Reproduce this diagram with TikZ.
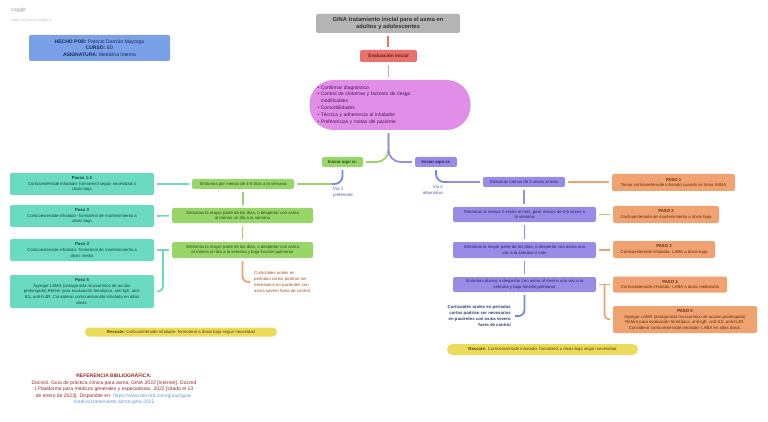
\documentclass[tikz,border=0pt]{standalone}
\usepackage{fontspec}
\setmainfont{Liberation Sans}
\usepackage{tikz}
\usetikzlibrary{calc}
\usetikzlibrary{positioning}

\definecolor{cgreen}{RGB}{152,214,106}
\definecolor{cgreentxt}{RGB}{40,72,20}
\definecolor{cpurple}{RGB}{152,140,230}
\definecolor{cpurpletxt}{RGB}{40,30,100}
\definecolor{cteal}{RGB}{106,218,192}
\definecolor{ctealtxt}{RGB}{20,72,60}
\definecolor{corange}{RGB}{240,162,112}
\definecolor{corangetxt}{RGB}{100,45,10}
\definecolor{cyellow}{RGB}{236,218,90}
\definecolor{cyellowtxt}{RGB}{80,70,10}
\definecolor{cblue}{RGB}{122,160,232}
\definecolor{cbluetxt}{RGB}{25,40,90}
\definecolor{cgraybox}{RGB}{180,180,180}
\definecolor{ctitletxt}{RGB}{50,50,50}
\definecolor{cred}{RGB}{230,115,108}
\definecolor{credtxt}{RGB}{110,25,20}
\definecolor{cpink}{RGB}{224,142,232}
\definecolor{cpinktxt}{RGB}{70,25,80}
\definecolor{cbluelink}{RGB}{110,140,225}
\definecolor{cvia}{RGB}{70,90,160}
\definecolor{cortltxt}{RGB}{160,80,30}
\definecolor{cortptxt}{RGB}{50,60,110}
\definecolor{cbib}{RGB}{150,40,40}
\definecolor{clink}{RGB}{110,150,220}
\definecolor{cgraylogo}{RGB}{150,150,150}
\definecolor{cgraylight}{RGB}{185,185,185}

\begin{document}
\begin{tikzpicture}[x=1pt,y=-1pt,
        box/.style={rectangle,rounded corners=2pt,align=center,inner sep=1pt,font=\fontsize{4.3}{5.7}\selectfont},
        greenbox/.style={box,fill=cgreen,text=cgreentxt},
        purplebox/.style={box,fill=cpurple,text=cpurpletxt},
        tealbox/.style={box,fill=cteal,text=ctealtxt,minimum width=144pt},
        orangebox/.style={box,fill=corange,text=corangetxt},
        rescue/.style={box,fill=cyellow,text=cyellowtxt,rounded corners=4.5pt},
        link/.style={line width=1.8pt,shorten <=3pt,shorten >=3pt},
        ]
        \useasboundingbox (0,0) rectangle (768,422);

        \node[anchor=west,inner sep=0,text=cgraylogo,font=\fontsize{5}{6}\selectfont](logo) at (11,10){coggle};
        \node[anchor=west,inner sep=0,text=cgraylight,font=\fontsize{3.6}{4}\selectfont](madefor) at (11,21){made for free at coggle.it};

        \node[box,fill=cblue,text=cbluetxt,minimum width=141pt,minimum height=26pt,font=\fontsize{5}{6.4}\selectfont](author) at (99.5,48){\textbf{HECHO POR:} Patricio Damián Mayorga\\\textbf{CURSO:} 6D\\\textbf{ASIGNATURA:} Medicina Interna};

        \node[box,fill=cgraybox,text=ctitletxt,minimum width=144pt,minimum height=19pt,font=\bfseries\fontsize{5.8}{7}\selectfont](title) at (388,23.5){GINA tratamiento inicial para el asma en\\adultos y adolescentes};
        \node[box,fill=cred,text=credtxt,minimum width=57pt,minimum height=12pt,font=\bfseries\fontsize{4.8}{6}\selectfont](eval) at (388.5,56){Evaluación inicial};
        \node[rectangle,rounded corners=24pt,fill=cpink,text=cpinktxt,minimum height=50pt,text width=145pt,inner xsep=8pt,align=left,font=\fontsize{4.9}{6.9}\selectfont](pill) at (390,105){%
            \textbullet\ Confirmar diagnóstico\\
            \textbullet\ Control de síntomas y factores de riesgo\\
            \hphantom{\textbullet\ }modificables\\
            \textbullet\ Comorbilidades\\
            \textbullet\ Técnica y adherencia al inhalador\\
            \textbullet\ Preferencias y metas del paciente};
        \coordinate (split) at (eval.south |- pill.south);

        \node[greenbox,minimum width=41pt,minimum height=10pt,font=\bfseries\fontsize{4.3}{5}\selectfont](start_g) at (342.5,162){Iniciar aquí si:};
        \node[purplebox,minimum width=42pt,minimum height=10pt,font=\bfseries\fontsize{4.3}{5}\selectfont](start_p) at (436,162){Iniciar aquí si:};
        \node[anchor=north west,inner sep=0,align=left,text=cvia,font=\fontsize{4.3}{6.5}\selectfont](via1) at (333,187){Vía 1\\preferente};
        \node[anchor=north east,inner sep=0,align=right,text=cvia,font=\fontsize{4.3}{6.5}\selectfont](via2) at (443,185){Vía 2\\alternativa};

        % via 1
        \node[greenbox,minimum width=102pt,minimum height=10pt](sym_g1) at (243,184){Síntomas por menos de 4-5 días a la semana};
        \node[greenbox,minimum width=141pt,minimum height=15pt](sym_g2) at (242.5,215.5){Síntomas la mayor parte de los días, o despertar con asma\\al menos un día a la semana};
        \node[greenbox,minimum width=141pt,minimum height=16pt](sym_g3) at (242.5,250){Síntomas la mayor parte de los días, o despertar con asma\\al menos un día a la semana y baja función pulmonar};

        \node[tealbox,minimum height=22pt](paso12_g) at (82,184){\textbf{Pasos 1-2}\\Corticoesteroide inhalado- formoterol según necesidad a\\dosis baja};
        \node[tealbox,minimum height=22pt](paso3_g) at (82,216){\textbf{Paso 3}\\Corticoesteroide inhalado- formoterol de mantenimiento a\\dosis baja};
        \node[tealbox,minimum height=22pt](paso4_g) at (82,250){\textbf{Paso 3}\\Corticoesteroide inhalado- formoterol de mantenimiento a\\dosis media};
        \node[tealbox,minimum height=33pt](paso5_g) at (82,291.5){\textbf{Paso 5}\\Agregar LAMA (antagonista muscarínico de acción\\prolongada) Referir para evaluación fenotípica, anti-IgE, anti-\\IL5, anti-IL4R. Considerar corticoesteroide inhalado en altas\\dosis.};

        \node[anchor=west,inner sep=1pt,align=left,text=cortltxt,font=\fontsize{4.3}{5.8}\selectfont](cort_g) at (253,282){Corticoides orales en\\periodos cortos podrían ser\\necesarios en pacientes con\\asma severo fuera de control};
        \node[rescue,minimum width=192pt,minimum height=9pt](resc_g) at (181,332){\textbf{Rescate:} Corticoesteroide inhalado- formoterol a dosis baja según necesidad};

        % via 2
        \node[purplebox,minimum width=82pt,minimum height=10pt](sym_p1) at (524,182){Síntomas menos de 2 veces al mes};
        \node[purplebox,minimum width=143pt,minimum height=15pt](sym_p2) at (524.5,214.5){Síntomas al menos 2 veces al mes, pero menos de 4-5 veces a\\la semana};
        \node[purplebox,minimum width=143pt,minimum height=16pt](sym_p3) at (524.5,250){Síntomas la mayor parte de los días, o despertar con asma una\\vez a la semana o más};
        \node[purplebox,minimum width=143pt,minimum height=15pt](sym_p4) at (524.5,284.5){Síntomas diarios o despertar con asma al menos una vez a la\\semana y baja función pulmonar};

        \node[orangebox,minimum width=123pt,minimum height=17pt](paso1_p) at (673.5,182.5){\textbf{PASO 1}\\Tomar corticoesteroide inhalado cuando se toma SABA};
        \node[orangebox,minimum width=106pt,minimum height=17pt](paso2_p) at (666,214.5){\textbf{PASO 2}\\Corticoesteroide de mantenimiento a dosis baja};
        \node[orangebox,minimum width=102pt,minimum height=17pt](paso3_p) at (664,249.5){\textbf{PASO 3}\\Corticoesteroide inhalado- LABA a dosis baja};
        \node[orangebox,minimum width=114pt,minimum height=16pt](paso4_p) at (670,284.5){\textbf{PASO 3}\\Corticoesteroide inhalado- LABA a dosis media/alta};
        \node[orangebox,minimum width=144pt,minimum height=27pt](paso5_p) at (685,319.5){\textbf{PASO 5}\\Agregar LAMA (antagonista muscarínico de acción prolongada)\\Referir para evaluación fenotípica, anti-IgE, anti-IL5, anti-IL4R.\\Considerar corticoesteroide inhalado- LABA en altas dosis.};

        \node[anchor=east,inner sep=1pt,align=right,text=cortptxt,font=\bfseries\fontsize{4.3}{6}\selectfont](cort_p) at (512,316){Corticoides orales en periodos\\cortos podrían ser necesarios\\en pacientes con asma severo\\fuera de control};
        \node[rescue,minimum width=191pt,minimum height=11pt,rounded corners=5.5pt](resc_p) at (542.5,349.5){\textbf{Rescate:} Corticoesteroide inhalado- formoterol a dosis baja según necesidad};

        \node[align=center,text=cbib,font=\fontsize{5}{6.5}\selectfont](bib) at (114,389){\textbf{REFERENCIA BIBLIOGRÁFICA:}\\Docred. Guía de práctica clínica para asma, GINA 2022 [Internet]. Docred\\| Plataforma para médicos generales y especialistas. 2022 [citado el 13\\de enero de 2023]. Disponible en: \textcolor{clink}{https://www.docred.com/guias/guia-}\\\textcolor{clink}{medica-tratamiento-asma-gina-2022}};

        % connectors
        \draw[link,cred] (title.south |- title.south) -- (title.south |- eval.north);
        \draw[link,cpink] (eval.south) -- (eval.south |- pill.north);
        \draw[link,cgreen,rounded corners=12pt] (split) |- (start_g.east);
        \draw[link,cpurple,rounded corners=12pt] (split) |- (start_p.west);

        \coordinate (via1_end) at (332,184);
        \coordinate (via2_end) at (447,182);
        \draw[link,cbluelink,rounded corners=8pt,shorten >=0pt] (start_g.south) |- (via1_end);
        \draw[link,cgreen,shorten <=0pt] (via1_end) -- (sym_g1.east);
        \draw[link,cbluelink,rounded corners=8pt,shorten >=0pt] (start_p.south) |- (via2_end);
        \draw[link,cpurple,shorten <=0pt] (via2_end) -- (sym_p1.west);

        \draw[link,cgreen] (sym_g1.south) -- (sym_g1.south |- sym_g2.north);
        \draw[link,cgreen] (sym_g2.south) -- (sym_g3.north);
        \draw[link,corange,rounded corners=6pt] (sym_g3.south) |- (cort_g.west);
        \draw[link,cteal] (paso12_g.east) -- (sym_g1.west);
        \draw[link,cteal] (paso3_g.east) -- (sym_g2.west);
        \draw[link,cteal] (paso4_g.east) -- (sym_g3.west);
        \coordinate (br_g) at ($(paso4_g.east)!0.5!(sym_g3.west)$);
        \draw[link,cteal,rounded corners=5pt,shorten <=0pt] (br_g) |- (paso5_g.east);

        \draw[link,cpurple] (sym_p1.south) -- (sym_p1.south |- sym_p2.north);
        \draw[link,cpurple] (sym_p2.south) -- (sym_p3.north);
        \draw[link,cpurple] (sym_p3.south) -- (sym_p4.north);
        \draw[link,cbluelink,rounded corners=6pt] (sym_p4.south) |- (cort_p.east);
        \draw[link,corange] (sym_p1.east) -- (sym_p1.east -| paso1_p.west);
        \draw[link,corange] (sym_p2.east) -- (sym_p2.east -| paso2_p.west);
        \draw[link,corange] (sym_p3.east) -- (sym_p3.east -| paso3_p.west);
        \draw[link,corange] (sym_p4.east) -- (paso4_p.west);
        \coordinate (br_p) at ($(sym_p4.east)!0.5!(paso4_p.west)$);
        \draw[link,corange,rounded corners=5pt,shorten <=0pt] (br_p) |- (paso5_p.west);
\end{tikzpicture}
\end{document}
